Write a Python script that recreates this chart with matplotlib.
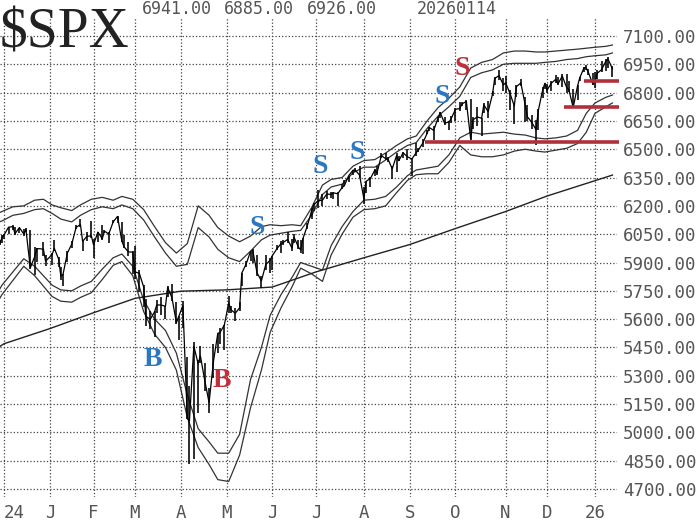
import pandas as pd
import matplotlib
matplotlib.use('Agg')
import matplotlib.pyplot as plt

# NYSE holidays inside the chart window
HOLIDAYS = ['2024-11-28', '2024-12-25', '2025-01-01', '2025-01-09', '2025-01-20',
            '2025-02-17', '2025-04-18', '2025-05-26', '2025-06-19', '2025-07-04',
            '2025-09-01', '2025-11-27', '2025-12-25', '2026-01-01']

# $SPX bars sampled Mon/Wed/Fri (holidays skipped), one week per line
CLOSE = [5987, 5999, 6032,
         6047, 6087, 6090,
         6053, 6085, 6051,
         6074, 5872, 5931,
         5974, 5971,
         5907, 5942,
         5975, 5918, 5827,
         5837, 5950, 5997,
         6086, 6101,
         6012, 6039, 6041,
         5994, 6061, 6026,
         6066, 6051, 6115,
         6144, 6013,
         5983, 5956, 5955,
         5850, 5843, 5770,
         5615, 5599, 5639,
         5675, 5675, 5668,
         5768, 5712, 5581,
         5612, 5671, 5074,
         5062, 5457, 5363,
         5406, 5276,
         5158, 5376, 5525,
         5529, 5569, 5686,
         5650, 5631, 5660,
         5844, 5892, 5958,
         5964, 5845, 5803,
         5889, 5912,
         5936, 5971, 6000,
         6006, 6022, 5977,
         6033, 5981, 5967,
         6025, 6092, 6173,
         6205, 6227,
         6230, 6263, 6260,
         6269, 6264, 6297,
         6306, 6359, 6389,
         6390, 6363, 6238,
         6330, 6345, 6389,
         6374, 6466, 6450,
         6449, 6396, 6467,
         6439, 6481, 6460,
         6448, 6482,
         6495, 6532, 6584,
         6615, 6600, 6664,
         6694, 6638, 6644,
         6661, 6711, 6716,
         6740, 6753, 6553,
         6655, 6671, 6664,
         6735, 6699, 6792,
         6875, 6890, 6840,
         6852, 6796, 6729,
         6832, 6851, 6734,
         6672, 6642, 6603,
         6705, 6813, 6849,
         6813, 6850, 6870,
         6846, 6887, 6827,
         6816, 6721, 6835,
         6878, 6932, 6930,
         6906, 6845, 6858,
         6902, 6921, 6966,
         6977, 6926]

HIGH = [6020, 6021, 6044,
        6053, 6089, 6099,
        6088, 6085, 6078,
        6085, 6070, 5982,
        5978, 6007,
        5941, 5949,
        6021, 5927, 5878,
        5838, 5961, 6014,
        6100, 6128,
        6017, 6062, 6120,
        6022, 6063, 6101,
        6073, 6063, 6127,
        6147, 6114,
        6044, 6009, 5959,
        5987, 5860, 5783,
        5705, 5642, 5645,
        5703, 5715, 5670,
        5775, 5786, 5690,
        5615, 5695, 5397,
        5247, 5481, 5381,
        5459, 5367,
        5233, 5469, 5528,
        5553, 5571, 5721,
        5669, 5660, 5691,
        5845, 5906, 5958,
        5969, 5939, 5829,
        5939, 5922,
        5937, 5991, 6016,
        6021, 6059, 6027,
        6050, 6018, 6019,
        6028, 6108, 6187,
        6215, 6284,
        6262, 6281, 6272,
        6272, 6271, 6316,
        6336, 6360, 6390,
        6402, 6409, 6301,
        6330, 6352, 6395,
        6409, 6481, 6481,
        6459, 6412, 6480,
        6466, 6485, 6502,
        6453, 6532,
        6507, 6555, 6600,
        6619, 6624, 6671,
        6696, 6670, 6650,
        6674, 6718, 6750,
        6749, 6763, 6764,
        6670, 6723, 6668,
        6745, 6753, 6807,
        6881, 6920, 6875,
        6890, 6815, 6741,
        6842, 6870, 6775,
        6735, 6683, 6654,
        6715, 6830, 6853,
        6843, 6862, 6895,
        6880, 6900, 6901,
        6862, 6820, 6840,
        6885, 6933, 6945,
        6923, 6905, 6910,
        6920, 6965, 6980,
        6986, 6941]

LOW = [5963, 5992, 6004,
       6022, 6050, 6074,
       6048, 6058, 6042,
       6059, 5867, 5832,
       5902, 5932,
       5879, 5888,
       5960, 5874, 5809,
       5773, 5903, 5978,
       6076, 6089,
       5962, 6013, 6030,
       5923, 6007, 6019,
       6054, 6003, 6107,
       6111, 6009,
       5977, 5932, 5837,
       5810, 5742, 5666,
       5565, 5547, 5505,
       5633, 5622, 5603,
       5715, 5694, 5572,
       5489, 5551, 5069,
       4835, 4857, 5102,
       5368, 5220,
       5101, 5287, 5420,
       5469, 5434, 5632,
       5630, 5591, 5643,
       5777, 5875, 5907,
       5895, 5830, 5767,
       5861, 5843,
       5861, 5966, 5952,
       5993, 6002, 5963,
       6005, 5971, 5952,
       5943, 6080, 6133,
       6175, 6188,
       6201, 6238, 6242,
       6236, 6201, 6291,
       6303, 6325, 6364,
       6378, 6347, 6212,
       6266, 6300, 6360,
       6365, 6454, 6441,
       6433, 6343, 6379,
       6437, 6455, 6441,
       6360, 6464,
       6485, 6510, 6579,
       6596, 6551, 6643,
       6663, 6630, 6603,
       6640, 6651, 6705,
       6728, 6710, 6550,
       6609, 6623, 6571,
       6690, 6665, 6781,
       6841, 6868, 6810,
       6798, 6706, 6631,
       6776, 6835, 6646,
       6650, 6607, 6521,
       6600, 6772, 6817,
       6800, 6810, 6850,
       6838, 6830, 6800,
       6801, 6720, 6762,
       6860, 6907, 6920,
       6894, 6840, 6825,
       6870, 6910, 6912,
       6930, 6885]

# band lines read weekly (Fridays, then the last bar)
UPPER_OUT = [6150, 6170, 6195, 6200, 6230, 6235, 6205, 6190, 6175, 6205,
             6235, 6245, 6230, 6250, 6235, 6180, 6090, 6005, 5950, 6000,
             6200, 6150, 6085, 6040, 6010, 6040, 6090, 6100, 6095, 6100,
             6095, 6190, 6310, 6340, 6350, 6410, 6440, 6445, 6480, 6520,
             6555, 6570, 6650, 6720, 6770, 6830, 6930, 6960, 6975, 7010,
             7020, 7020, 7015, 7015, 7020, 7025, 7030, 7035, 7040, 7045,
             7052]
UPPER_IN = [6105, 6120, 6150, 6160, 6180, 6185, 6160, 6130, 6115, 6150,
            6180, 6195, 6185, 6205, 6185, 6125, 6035, 5950, 5880, 5890,
            6085, 6035, 5970, 5925, 5905, 5960, 6020, 6045, 6055, 6065,
            6070, 6150, 6260, 6300, 6315, 6375, 6405, 6405, 6443, 6485,
            6520, 6535, 6610, 6675, 6725, 6780, 6880, 6905, 6920, 6950,
            6955, 6955, 6955, 6960, 6965, 6975, 6980, 6990, 6995, 7000,
            7010]
LOWER_IN = [5700, 5780, 5850, 5920, 5880, 5830, 5780, 5755, 5750, 5775,
            5800, 5865, 5925, 5945, 5880, 5700, 5600, 5540, 5420, 5200,
            5020, 4950, 4890, 4890, 4990, 5280, 5450, 5620, 5730, 5820,
            5900, 5880, 5860, 5990, 6090, 6170, 6230, 6235, 6250, 6300,
            6360, 6390, 6400, 6410, 6470, 6560, 6590, 6580, 6585, 6590,
            6580, 6575, 6560, 6555, 6560, 6570, 6600, 6690, 6745, 6775,
            6787]
LOWER_OUT = [5650, 5730, 5805, 5880, 5830, 5775, 5720, 5695, 5690, 5715,
             5740, 5810, 5885, 5905, 5830, 5640, 5520, 5450, 5330, 5080,
             4920, 4830, 4750, 4740, 4880, 5130, 5330, 5530, 5660, 5770,
             5870, 5840, 5800, 5940, 6050, 6140, 6180, 6185, 6200, 6270,
             6335, 6365, 6370, 6370, 6430, 6520, 6470, 6460, 6460, 6470,
             6490, 6500, 6490, 6485, 6495, 6505, 6530, 6590, 6690, 6725,
             6745]

# 200-day moving average
MA_DATES = ['2024-11-25', '2024-12-02', '2025-01-02', '2025-02-03', '2025-03-03',
            '2025-04-01', '2025-05-01', '2025-06-02', '2025-07-01', '2025-08-01',
            '2025-09-02', '2025-10-01', '2025-11-03', '2025-12-01', '2026-01-14']
MA_200 = [5440, 5470, 5550, 5634, 5710, 5748, 5755, 5770, 5850, 5925,
          5995, 6080, 6170, 6252, 6363]

# buy / sell marks
SIG_TEXT = ['B', 'B', 'S', 'S', 'S', 'S', 'S']
SIG_DATES = ['2025-03-13', '2025-04-29', '2025-05-21', '2025-07-03', '2025-07-29',
             '2025-09-23', '2025-10-06']
SIG_PRICE = [5385, 5277, 6088, 6406, 6480, 6777, 6930]
SIG_COLOR = ['#2b78c0', '#c0303a', '#2b78c0', '#2b78c0', '#2b78c0', '#2b78c0', '#c0303a']

# red support lines
RED_LEVEL = [6540, 6725, 6860]
RED_START = ['2025-09-11', '2025-12-11', '2025-12-24']

MONTH_STARTS = ['2024-12-01', '2025-01-01', '2025-02-01', '2025-03-01', '2025-04-01',
                '2025-05-01', '2025-06-01', '2025-07-01', '2025-08-01', '2025-09-01',
                '2025-10-01', '2025-11-01', '2025-12-01', '2026-01-01']
MONTH_LABELS = ['24', 'J', 'F', 'M', 'A', 'M', 'J', 'J', 'A', 'S', 'O', 'N', 'D', '26']

HEADER = ['6941.00', '6885.00', '6926.00', '20260114']

# trading-day axis
DAYS = pd.bdate_range('2024-11-01', '2026-02-27', freq='C', holidays=HOLIDAYS)


def tpos(dates):
    return DAYS.searchsorted(pd.DatetimeIndex(pd.to_datetime(dates)))


bar_dates = pd.bdate_range('2024-11-25', '2026-01-14', freq='C',
                           weekmask='Mon Wed Fri', holidays=HOLIDAYS)
n = min(len(bar_dates), len(CLOSE), len(HIGH), len(LOW))
px = tpos(bar_dates[:n])

band_dates = pd.date_range('2024-11-22', '2026-01-09', freq='W-FRI')
band_dates = band_dates.append(pd.DatetimeIndex(['2026-01-14']))
bx = tpos(band_dates)

fig = plt.figure(figsize=(7, 5.23), dpi=100)
ax = fig.add_axes([0, 1 - 497 / 523, 617 / 700, (497 - 18) / 523])

ax.grid(True, ls=':', color='#444', lw=0.9)
ax.set_axisbelow(True)

for band in (UPPER_OUT, UPPER_IN, LOWER_IN, LOWER_OUT):
    m = min(len(bx), len(band))
    ax.plot(bx[:m], band[:m], color='#333', lw=0.9)

ax.plot(tpos(MA_DATES), MA_200, color='#222', lw=1.0)

ax.vlines(px, LOW[:n], HIGH[:n], color='k', lw=1.15)
ax.plot(px, CLOSE[:n], color='k', lw=0.9)

x_left = tpos(['2024-12-02'])[0] - 1.9
x_right = tpos(['2026-01-02'])[0] + 10.1

for lvl, start in zip(RED_LEVEL, RED_START):
    ax.hlines(lvl, tpos([start])[0], x_right + 1, color='#b0303a', lw=2.6,
              clip_on=False)

for t, d, p, c in zip(SIG_TEXT, SIG_DATES, SIG_PRICE, SIG_COLOR):
    ax.text(tpos([d])[0], p, t, color=c, fontsize=20, fontweight='bold',
            family='Liberation Serif', ha='center', va='center')

ax.set_xlim(x_left, x_right)
ax.set_ylim(4658, 7195)

ax.set_xticks(tpos(MONTH_STARTS))
ax.set_xticklabels(MONTH_LABELS)
yt = list(range(4700, 7101, 150))
ax.set_yticks(yt)
ax.set_yticklabels(['%.2f' % v for v in yt])
ax.yaxis.tick_right()
ax.tick_params(length=0, labelsize=12.5, labelcolor='#555')
ax.tick_params(axis='y', pad=4.5)
ax.tick_params(axis='x', pad=5)
for lab in ax.get_xticklabels() + ax.get_yticklabels():
    lab.set_family('DejaVu Sans Mono')
ax.get_xticklabels()[0].set_horizontalalignment('left')
for s in ax.spines.values():
    s.set_visible(False)

fig.text(0.0, 1 - 47 / 523, '$SPX', fontsize=40, family='Liberation Serif',
         color='#222', va='baseline')
for xpix, txt in zip([142, 224, 307, 417], HEADER):
    fig.text(xpix / 700, 1 - 9 / 523, txt, fontsize=12, family='DejaVu Sans Mono',
             color='#555', va='center')

fig.savefig('out.png', dpi=100)
